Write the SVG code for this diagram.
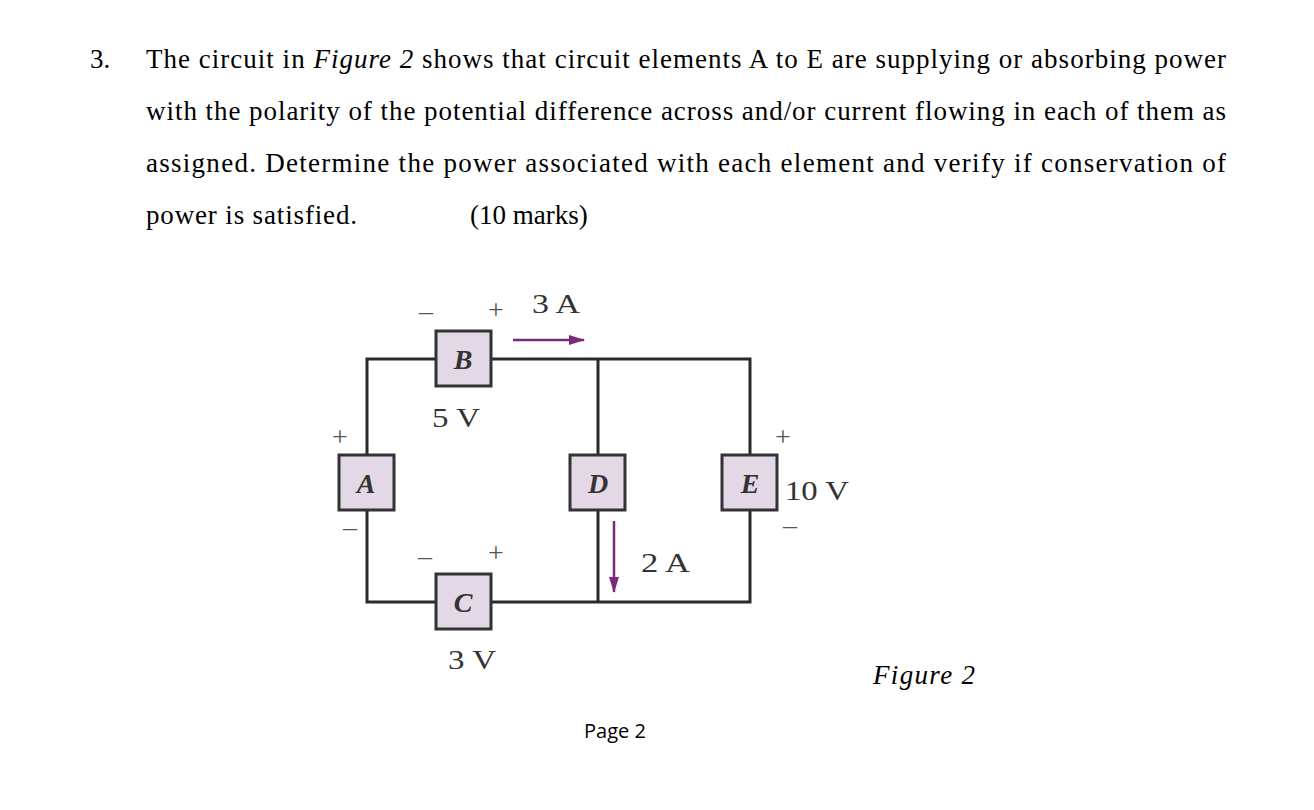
<svg xmlns="http://www.w3.org/2000/svg" width="1314" height="810" viewBox="0 0 1314 810">
<style>
.t{font-family:"Liberation Serif",serif;font-size:27px;fill:#000}
.c{font-family:"Liberation Serif",serif;font-size:28px;fill:#333}
.s{font-family:"Liberation Serif",serif;font-size:28px;fill:#555}
.l{font-family:"Liberation Serif",serif;font-size:28px;font-style:italic;font-weight:bold;fill:#333;text-anchor:middle}
.box{fill:#e2d8e6;stroke:#333;stroke-width:3}
.w{fill:none;stroke:#2a2a2a;stroke-width:3}
.a{stroke:#7a2a7a;stroke-width:2.5;fill:none}
</style>
<defs><marker id="ah" markerWidth="16" markerHeight="10" refX="15" refY="5" orient="auto" markerUnits="userSpaceOnUse"><path d="M0,0 L16,5 L0,10 Z" fill="#7a2a7a"/></marker></defs>
<rect width="1314" height="810" fill="#fff"/>
<text class="t" x="90" y="68">3.</text>
<text class="t" x="146" y="68" textLength="1080" lengthAdjust="spacing">The circuit in <tspan font-style="italic">Figure 2</tspan> shows that circuit elements A to E are supplying or absorbing power</text>
<text class="t" x="146" y="120" textLength="1080" lengthAdjust="spacing">with the polarity of the potential difference across and/or current flowing in each of them as</text>
<text class="t" x="146" y="172" textLength="1080" lengthAdjust="spacing">assigned.   Determine the power associated with each element and verify if conservation of</text>
<text class="t" x="146" y="224" textLength="211" lengthAdjust="spacing">power is satisfied.</text>
<text class="t" x="470" y="224">(10 marks)</text>
<g id="wires" class="w">
<path d="M436,359 H367 V602 H436 M491,359 H750 V602 H491 M598,359 V602"/>
</g>
<g id="connectors">
<line class="a" x1="513" y1="340" x2="584" y2="340" marker-end="url(#ah)"/>
<line class="a" x1="614" y1="521" x2="614" y2="592" marker-end="url(#ah)"/>
</g>
<g id="A"><rect class="box" x="339" y="455" width="55" height="55"/><text class="l" x="366" y="493">A</text></g>
<g id="B"><rect class="box" x="436" y="331" width="55" height="55"/><text class="l" x="463" y="369">B</text></g>
<g id="C"><rect class="box" x="436" y="574" width="55" height="55"/><text class="l" x="463" y="612">C</text></g>
<g id="D"><rect class="box" x="570" y="455" width="55" height="55"/><text class="l" x="598" y="493">D</text></g>
<g id="E"><rect class="box" x="722" y="455" width="55" height="55"/><text class="l" x="750" y="493">E</text></g>
<g id="labels">
<text class="s" x="419" y="320">–</text>
<text class="s" x="488" y="319">+</text>
<text class="c" x="532" y="313" textLength="48" lengthAdjust="spacingAndGlyphs">3 A</text>
<text class="c" x="432" y="427" textLength="48" lengthAdjust="spacingAndGlyphs">5 V</text>
<text class="s" x="332" y="446">+</text>
<text class="s" x="343" y="536">–</text>
<text class="s" x="775" y="446">+</text>
<text class="s" x="783" y="534">–</text>
<text class="c" x="785" y="500" textLength="64" lengthAdjust="spacingAndGlyphs">10 V</text>
<text class="s" x="418" y="565">–</text>
<text class="s" x="488" y="562">+</text>
<text class="c" x="641" y="572" textLength="49" lengthAdjust="spacingAndGlyphs">2 A</text>
<text class="c" x="448" y="669" textLength="48" lengthAdjust="spacingAndGlyphs">3 V</text>
</g>
<text class="t" x="873" y="684" font-style="italic" textLength="102" lengthAdjust="spacing">Figure 2</text>
<text x="584" y="738" font-family="'Open Sans',sans-serif" font-size="20" fill="#000">Page  2</text>
</svg>
